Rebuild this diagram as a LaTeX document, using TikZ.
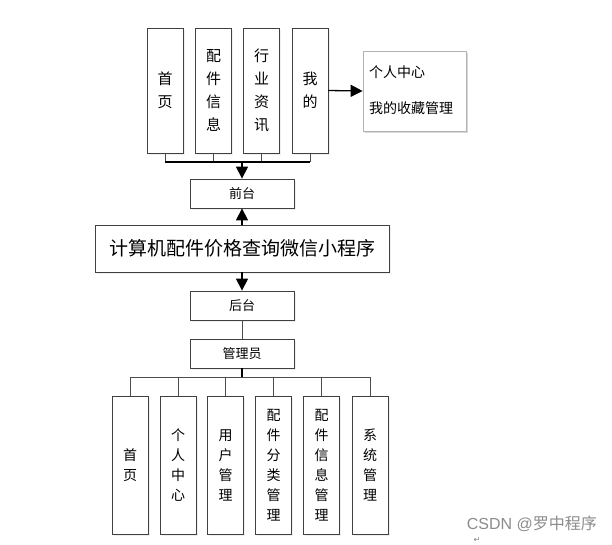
\documentclass[tikz,border=0pt]{standalone}
\usepackage{fontspec}
\setmainfont{Noto Sans CJK SC}
\newfontfamily\djv{DejaVu Sans}
\newfontfamily\lsans{Liberation Sans}
\usetikzlibrary{arrows.meta,shadows}
\begin{document}
\begin{tikzpicture}[x=1pt,y=-1pt,
  box/.style={draw=black!75,line width=0.8pt,fill=white,inner sep=0pt,align=center,
    drop shadow={opacity=0.12,shadow xshift=1.5pt,shadow yshift=-1.5pt}},
  tbox/.style={box,minimum width=36pt,minimum height=125pt,font=\fontsize{15}{23}\selectfont},
  bbox/.style={box,minimum width=36pt,minimum height=138pt,font=\fontsize{14}{20}\selectfont},
  sbox/.style={box,minimum width=104pt,minimum height=29pt,font=\fontsize{13}{15}\selectfont},
  bus/.style={line width=1.3pt,black},
  stub/.style={line width=0.8pt,black!70},
  arr/.style={line width=1.3pt,black,-{Triangle[length=12pt,width=12pt]}}]
\useasboundingbox (0,0) rectangle (612,544);
\fill[white] (0,0) rectangle (612,544);
% top row
\node[tbox] (t1) at (165,90.5) {首\\页};
\node[tbox] (t2) at (213.5,90.5) {配\\件\\信\\息};
\node[tbox] (t3) at (261.5,90.5) {行\\业\\资\\讯};
\node[tbox] (t4) at (310,90.5) {我\\的};
\node[box,draw=black!30,minimum width=103pt,minimum height=80pt,
  drop shadow={opacity=0.2,shadow xshift=2pt,shadow yshift=-2pt}]
  (me) at (414.5,91) {};
\node[anchor=west,font=\fontsize{14}{16}\selectfont,inner sep=0pt] (me1) at (369,72) {个人中心};
\node[anchor=west,font=\fontsize{14}{16}\selectfont,inner sep=0pt] (me2) at (369,108) {我的收藏管理};
\draw[arr] (t4.east) -- (me.west);
% front
\node[sbox] (qt) at (242,193.5) {前台};
\coordinate (tbus) at (242,162);
\draw[stub] (t1.south) -- (t1.south |- tbus);
\draw[stub] (t2.south) -- (t2.south |- tbus);
\draw[stub] (t3.south) -- (t3.south |- tbus);
\draw[stub] (t4.south) -- (t4.south |- tbus);
\draw[bus] (t1.south |- tbus) -- (t4.south |- tbus);
\draw[arr] (tbus) -- (qt.north);
% main
\node[box,minimum width=294pt,minimum height=47pt,font=\fontsize{19}{21}\selectfont] (main) at (242,248.5) {计算机配件价格查询微信小程序};
\draw[arr] (main.north) -- (qt.south);
\node[sbox] (ht) at (242,305.5) {后台};
\draw[arr] (main.south) -- (ht.north);
\node[sbox] (gly) at (242,353.5) {管理员};
\draw[stub] (ht.south) -- (gly.north);
% bottom row
\node[bbox] (b1) at (130,465) {首\\页};
\node[bbox] (b2) at (178,465) {个\\人\\中\\心};
\node[bbox] (b3) at (225.5,465) {用\\户\\管\\理};
\node[bbox] (b4) at (273.5,465) {配\\件\\分\\类\\管\\理};
\node[bbox] (b5) at (321.5,465) {配\\件\\信\\息\\管\\理};
\node[bbox] (b6) at (370,465) {系\\统\\管\\理};
\coordinate (bbus) at (242,377);
\draw[bus] (gly.south) -- (bbus);
\draw[stub] (b1.north |- bbus) -- (b6.north |- bbus);
\foreach \b in {b1,b2,b3,b4,b5,b6} \draw[stub] (\b.north |- bbus) -- (\b.north);
% watermark
\node[anchor=east,inner sep=0pt,text=black!45,font=\fontsize{16}{18}\selectfont] (wm) at (597,524) {{\lsans CSDN @}罗中程序};
\node[inner sep=0pt,text=black!50,font=\djv\fontsize{8}{9}\selectfont] (pm) at (477,540) {↵};
\end{tikzpicture}
\end{document}
